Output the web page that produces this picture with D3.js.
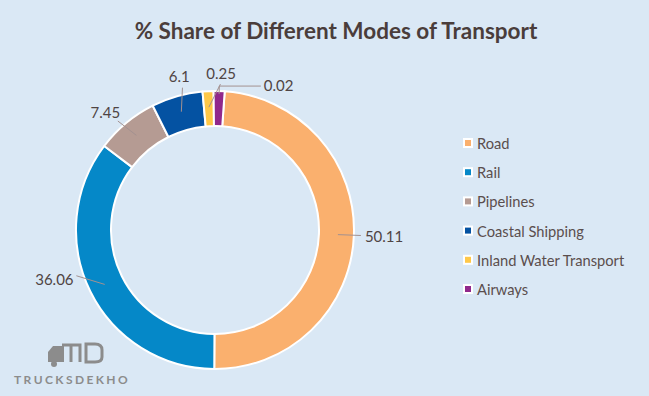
<!DOCTYPE html>
<html>
<head>
<meta charset="utf-8">
<script src="https://cdn.jsdelivr.net/npm/d3@7"></script>
<style>
  body { margin: 0; background: #dae8f5; }
  svg { display: block; font-family: Lato, "Open Sans", sans-serif; }
</style>
</head>
<body>
<svg width="649" height="396"></svg>
<script>
// data
const modes = ["Road", "Rail", "Pipelines", "Coastal Shipping", "Inland Water Transport", "Airways"];
const shares = [50.11, 36.06, 7.45, 6.1, 0.25, 0.02];
const shareLabels = ["50.11", "36.06", "7.45", "6.1", "0.25", "0.02"];
const colors = ["#fab06e", "#0588c8", "#b59b93", "#0452a2", "#ffc848", "#91288c"];

const svg = d3.select("svg");
const width = 649, height = 396;
const cx = 215, cy = 230;
const outerR = 139, innerR = 104;
const deg = Math.PI / 180;

svg.append("rect").attr("width", width).attr("height", height).attr("fill", "#dae8f5");

// title
svg.append("text")
  .attr("x", 336).attr("y", 39)
  .attr("text-anchor", "middle")
  .attr("font-size", 22.5).attr("font-weight", "bold")
  .attr("fill", "#4a3d3b")
  .text("% Share of Different Modes of Transport");

const data = modes.map((m, i) => ({ mode: m, value: shares[i], label: shareLabels[i], color: colors[i] }));

// tiny slices get a minimum visible size, like the original chart
const pie = d3.pie()
  .sort(null)
  .value(d => Math.max(d.value, 1.3))
  .startAngle(4 * deg)
  .endAngle(364 * deg);

const arcs = pie(data);
const arc = d3.arc().innerRadius(innerR).outerRadius(outerR);

const g = svg.append("g").attr("transform", `translate(${cx},${cy})`);

g.selectAll("path.slice")
  .data(arcs)
  .enter()
  .append("path")
  .attr("class", "slice")
  .attr("d", arc)
  .attr("fill", d => d.data.color)
  .attr("stroke", "#fff")
  .attr("stroke-width", 2)
  .attr("stroke-linejoin", "round");

// labels - excel nudges some of them away from the slice middle
const labelShift = [0, 8, -2, 3, 5, 21];
const fontSize = 15;
const polar = (r, a) => [r * Math.sin(a), -r * Math.cos(a)];

const labelG = g.append("g");
arcs.forEach((d, i) => {
  const mid = (d.startAngle + d.endAngle) / 2;
  const la = mid + labelShift[i] * deg;
  const t = labelG.append("text")
    .attr("font-size", fontSize)
    .attr("fill", "#4f4443")
    .attr("text-anchor", "middle")
    .attr("dominant-baseline", "central")
    .text(d.data.label);
  const w = t.node().getComputedTextLength();
  const h = fontSize;
  const p = polar(150, la);
  const tx = p[0] + (w / 2) * Math.sin(la);
  const ty = p[1] - (h / 2) * Math.cos(la);
  t.attr("x", tx).attr("y", ty);

  let pts;
  if (Math.abs(labelShift[i]) > 10) {
    const a = polar(136, mid), b = polar(144, mid);
    pts = [a, b, [tx - w / 2 - 3, b[1]]];
  } else {
    pts = [polar(123, mid), polar(146, la)];
  }
  labelG.append("path")
    .attr("d", d3.line()(pts))
    .attr("fill", "none")
    .attr("stroke", "#a39190")
    .attr("stroke-width", 1);
});

// legend
const legend = svg.append("g").attr("transform", "translate(463,143)");
const rows = legend.selectAll("g")
  .data(data)
  .enter()
  .append("g")
  .attr("transform", (d, i) => `translate(0,${i * 29.2})`);

rows.append("rect")
  .attr("x", 0).attr("y", -5)
  .attr("width", 10).attr("height", 10)
  .attr("fill", "#fff");
rows.append("rect")
  .attr("x", 2).attr("y", -3)
  .attr("width", 6).attr("height", 6)
  .attr("fill", d => d.color);
rows.append("text")
  .attr("x", 14).attr("y", 0)
  .attr("dominant-baseline", "central")
  .attr("font-size", 14.7)
  .attr("fill", "#5a4e4d")
  .text(d => d.mode);

// watermark logo
const logo = svg.append("g").attr("fill", "none").attr("stroke", "#8c8c8c").attr("stroke-width", 3);
logo.append("path").attr("d", "M62,345 L80,345 L80,362 M71,345 L71,362");
logo.append("path").attr("d", "M86,344 L95,344 Q102,344 102,350 L102,357 Q102,362 95,362 L86,362 Z");
svg.append("path")
  .attr("d", "M48,362 L48,352 L53,346 L64,346 L64,362 Z")
  .attr("fill", "#8c8c8c");
svg.append("circle").attr("cx", 54).attr("cy", 364).attr("r", 3).attr("fill", "#8c8c8c");
svg.append("text")
  .attr("x", 14).attr("y", 384)
  .attr("font-size", 12).attr("font-weight", "bold")
  .attr("letter-spacing", 2.4)
  .attr("fill", "#8c8c8c")
  .text("TRUCKSDEKHO");
</script>
</body>
</html>
